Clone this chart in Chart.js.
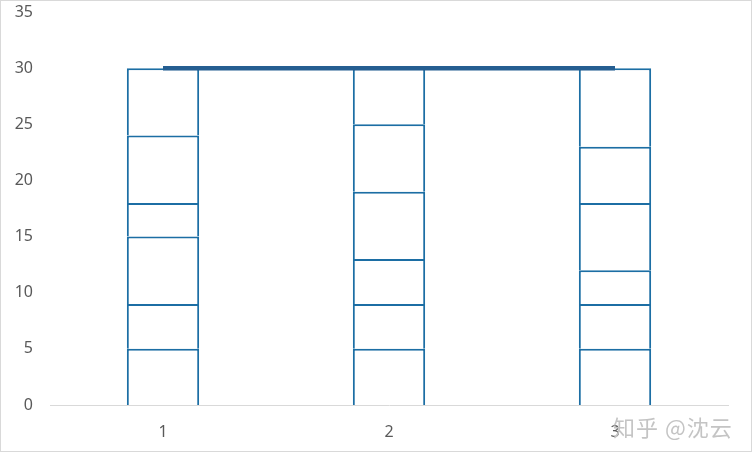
<!DOCTYPE html>
<html>
<head>
<meta charset="utf-8">
<script src="https://cdn.jsdelivr.net/npm/chart.js@4"></script>
<style>
  html, body { margin: 0; padding: 0; background: #fff; }
  #wrap { position: relative; width: 752px; height: 452px; box-sizing: border-box; border: 1px solid #d9d9d9; }
  #wrap canvas { position: absolute; left: -1px; top: -1px; }
  #mark { position: absolute; left: 612px; top: 409px; font-family: "Noto Sans CJK SC", sans-serif; font-size: 22px; color: #c4c4c4; letter-spacing: 1px; }
</style>
</head>
<body>
<div id="wrap">
  <canvas id="chart" width="752" height="452"></canvas>
  <div id="mark">知乎 @沈云</div>
</div>
<script>
// categories and stacked segments (bottom to top)
var categories = ['1', '2', '3'];
var seg1 = [5, 5, 5];
var seg2 = [4, 4, 4];
var seg3 = [6, 4, 3];
var seg4 = [3, 6, 6];
var seg5 = [6, 6, 5];
var seg6 = [6, 5, 7];
var total = [30, 30, 30];
var yTicks = [0, 5, 10, 15, 20, 25, 30, 35];

var barColor = '#1c6ea4';
var segs = [seg1, seg2, seg3, seg4, seg5, seg6];

var datasets = segs.map(function (s, i) {
  return {
    type: 'bar',
    label: 'S' + (i + 1),
    data: s,
    stack: 'bars',
    order: 1,
    backgroundColor: '#ffffff',
    borderColor: barColor,
    // only top/sides so the joins between segments stay one line thick
    borderWidth: { top: 2, bottom: 0, left: 2, right: 2 },
    borderSkipped: false,
    categoryPercentage: 1,
    barPercentage: 0.32
  };
});

datasets.push({
  type: 'line',
  label: 'total',
  data: total,
  stack: 'line',
  order: 0,
  borderColor: '#255e91',
  borderWidth: 4.5,
  pointRadius: 0,
  fill: false
});

new Chart(document.getElementById('chart'), {
  data: { labels: categories, datasets: datasets },
  options: {
    responsive: false,
    animation: false,
    layout: { padding: { left: 0, right: 24, top: 12, bottom: 0 } },
    plugins: { legend: { display: false }, tooltip: { enabled: false } },
    scales: {
      x: {
        stacked: true,
        offset: true,
        grid: { display: false, drawTicks: false },
        border: { display: true, color: '#d9d9d9', width: 1 },
        ticks: { color: '#595959', font: { family: 'Noto Sans', size: 16 }, padding: 18 },
        afterFit: function (s) { s.height = 47; }
      },
      y: {
        stacked: true,
        min: 0,
        max: 35,
        grid: { display: false, drawTicks: false },
        border: { display: false },
        afterBuildTicks: function (s) { s.ticks = yTicks.map(function (v) { return { value: v }; }); },
        ticks: { color: '#595959', font: { family: 'Noto Sans', size: 16 }, padding: 17 },
        afterFit: function (s) {
          s.width = 50;
          // tick padding would otherwise push the plot top down
          s.paddingTop = 12;
          s.paddingBottom = 0;
        }
      }
    }
  }
});
</script>
</body>
</html>
